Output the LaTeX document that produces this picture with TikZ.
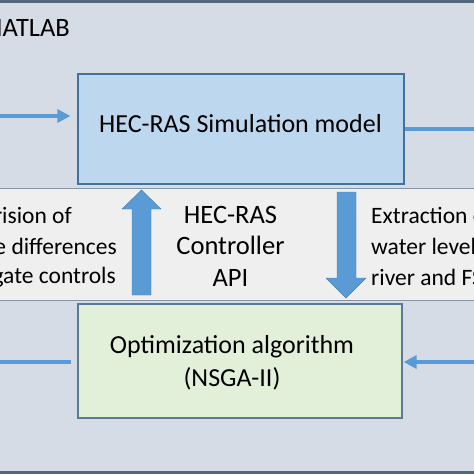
\documentclass[tikz,border=0pt]{standalone}
\usepackage{fontspec}
\setmainfont{Carlito}
\usetikzlibrary{arrows.meta}
\definecolor{bgc}{HTML}{D6DCE5}
\definecolor{bandc}{HTML}{EFEFEF}
\definecolor{framec}{HTML}{52667E}
\definecolor{simfill}{HTML}{BDD7EE}
\definecolor{simdraw}{HTML}{41719C}
\definecolor{optfill}{HTML}{E2F0D9}
\definecolor{optdraw}{HTML}{5A7A94}
\definecolor{arrc}{HTML}{5B9BD5}
\tikzset{
  boxstyle/.style={draw, line width=1.2pt, inner sep=0pt},
  lbl/.style={font=\fontsize{26}{31.5}\selectfont, text=black, inner sep=0pt},
  sidelbl/.style={lbl, font=\fontsize{23.5}{31}\selectfont},
  conn/.style={draw=arrc, line width=3.6pt},
  connarr/.style={conn, -{Triangle[length=13pt,width=13pt]}},
  blockarrow/.style={fill=arrc, draw=arrc!80!black, line width=0.4pt}
}
\begin{document}
\begin{tikzpicture}[x=1pt,y=-1pt]
\useasboundingbox (0,0) rectangle (474,474);
\clip (0,0) rectangle (474,474);
% background
\fill[bgc] (0,0) rectangle (474,474);
\fill[framec] (0,0) rectangle (474,2.5);
\fill[framec] (0,471) rectangle (474,474);
% band
\fill[bandc] (0,188) rectangle (474,300);
\draw[framec!70, line width=0.8pt] (0,188) -- (474,188);
\draw[framec!70, line width=0.8pt] (0,300) -- (474,300);
% title
\node[lbl, font=\fontsize{26.5}{31}\selectfont, anchor=base east] (title) at (70,36) {MATLAB};
% boxes
\node[boxstyle, fill=simfill, draw=simdraw, minimum width=326pt, minimum height=110pt] (sim) at (241,129) {};
\node[lbl] (simtxt) at (240.5,124) {HEC-RAS Simulation model};
\node[boxstyle, fill=optfill, draw=optdraw, minimum width=324pt, minimum height=114pt] (opt) at (240,361) {};
\node[lbl, align=center, font=\fontsize{26}{33}\selectfont] (opttxt) at (232,363) {Optimization algorithm\\(NSGA-II)};
% middle texts
\node[lbl, align=center, font=\fontsize{26.5}{31.5}\selectfont] (api) at (230.5,246) {HEC-RAS\\Controller\\API};
\node[sidelbl, anchor=east] (l1) at (72,215) {rision of};
\node[sidelbl, anchor=east] (l2) at (117,246) {e differences};
\node[sidelbl, anchor=east] (l3) at (116,277) {gate controls};
\node[sidelbl, align=left, anchor=west] (r) at (371,246) {Extraction of\\water level\\river and FS};
% horizontal connectors
\coordinate (inL) at (0,116);
\coordinate (outR) at (474,129);
\coordinate (inR) at (474,362);
\coordinate (outL) at (0,362);
\draw[connarr] (inL) -- ([xshift=-7pt]sim.west |- inL);
\draw[conn] (sim.east |- outR) -- (outR);
\draw[connarr] (inR) -- ([xshift=1pt]opt.east |- inR);
\draw[conn] ([xshift=-6pt]opt.west |- outL) -- (outL);
% block arrows
\draw[blockarrow] (132,295) -- (132,209) -- (122,209) -- (141.5,190) -- (161,209) -- (151,209) -- (151,295) -- cycle;
\draw[blockarrow] (337,192) -- (337,278) -- (326,278) -- (346,298) -- (366,278) -- (356,278) -- (356,192) -- cycle;
\end{tikzpicture}
\end{document}
